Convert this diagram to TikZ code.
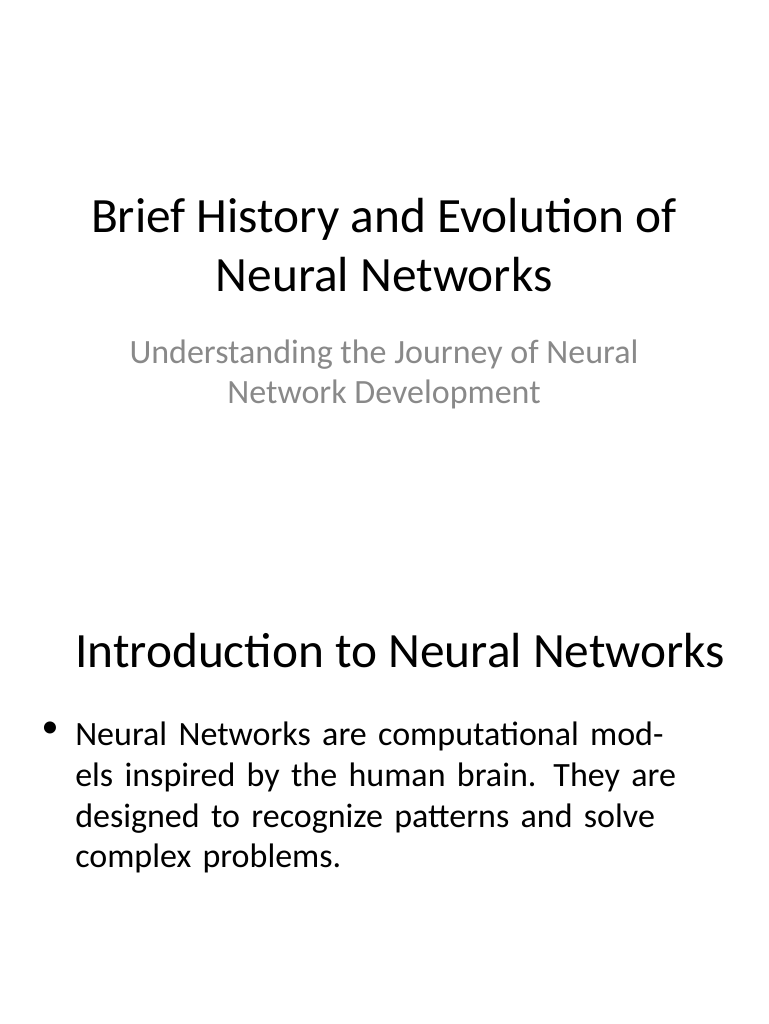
\documentclass[tikz,border=0pt]{standalone}
\usepackage{fontspec}
\setmainfont{Carlito}
\definecolor{subgray}{RGB}{137,137,137}
\begin{document}
\begin{tikzpicture}[x=0.75pt,y=-0.75pt,
  ttl/.style={font=\fontsize{37}{44}\selectfont,align=center,inner sep=0},
  sub/.style={font=\fontsize{25.5}{30}\selectfont,align=center,text=subgray,inner sep=0},
  body/.style={font=\fontsize{25.5}{30.5}\selectfont,align=left,inner sep=0,anchor=north west,text width=470pt}]
\useasboundingbox (0,0) rectangle (768,1024);
\node[ttl] (title) at (384,245) {Brief History and Evolution of\\Neural Networks};
\node[sub] (subtitle) at (384,374) {Understanding the Journey of Neural\\Network Development};
\node[ttl,anchor=west] (head) at (75,651) {Introduction to Neural Networks};
\node[body] (text) at (75,722) {Neural Networks are computational models inspired by the human brain. They are designed to recognize patterns and solve complex problems.};
\node[font=\fontsize{25.5}{30}\selectfont,inner sep=0,anchor=north] (bul) at (50,722) {•};
\end{tikzpicture}
\end{document}
